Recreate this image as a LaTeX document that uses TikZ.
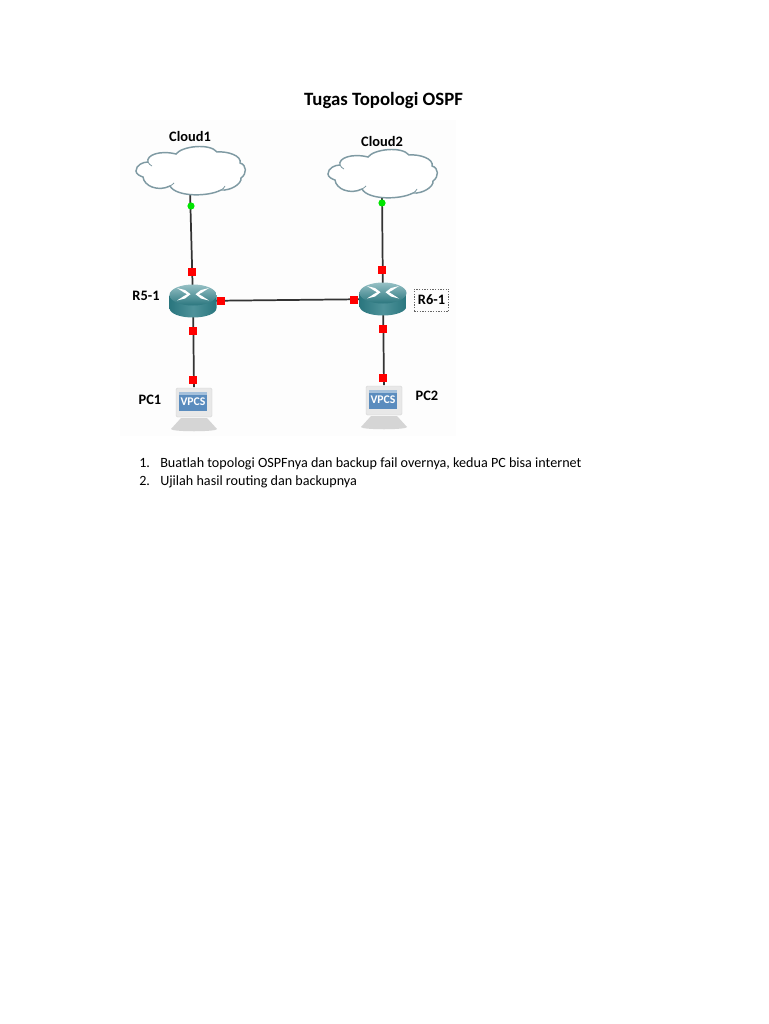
\documentclass[tikz,border=0pt]{standalone}
\usepackage{fontspec}
\setmainfont{Carlito}
\definecolor{cloudline}{HTML}{7F9AA3}
\definecolor{routertop}{HTML}{5E9FA6}
\definecolor{routerlow}{HTML}{2A767E}
\definecolor{routerdark}{HTML}{1F666E}
\definecolor{pcbody}{HTML}{E8E8E8}
\definecolor{pcedge}{HTML}{CFCFCF}
\definecolor{screenblue}{HTML}{5A8CBE}
\tikzset{
  x=0.75pt,y=-0.75pt,
  link/.style={draw=black!80,line width=1.3pt},
  port/.style={fill=red,inner sep=0pt,minimum size=5.6pt,rectangle},
  upport/.style={fill=green!90!black,inner sep=0pt,minimum size=5.4pt,circle},
  devlabel/.style={font=\bfseries\fontsize{10.8}{12}\selectfont,inner sep=0pt},
  bodytext/.style={font=\fontsize{10.6}{12}\selectfont,inner sep=0pt,anchor=base west},
  cloudpic/.pic={
    \draw[cloudline,line width=1.1pt,fill=white]
      (-54,1) .. controls (-54,-5) and (-47,-8) .. (-42,-8)
      .. controls (-44,-15) and (-30,-20) .. (-14,-16)
      .. controls (-8,-24) and (20,-27) .. (27,-18)
      .. controls (38,-19) and (52,-14) .. (50,-7)
      .. controls (57,-5) and (57,4) .. (51,8)
      .. controls (52,14) and (40,21) .. (31,20)
      .. controls (18,27) and (-14,27) .. (-20,16)
      .. controls (-32,22) and (-46,16) .. (-47,7)
      .. controls (-50,6) and (-54,4) .. (-54,1) -- cycle;
    \draw[cloudline,line width=0.6pt] (-42,-8) .. controls (-41,-6) and (-40,-5) .. (-38,-4);
    \draw[cloudline,line width=0.6pt] (-20,16) .. controls (-18,15) and (-17,14) .. (-16,13);
    \draw[cloudline,line width=0.6pt] (31,20) .. controls (33,19) and (34,18) .. (35,16);
  },
  routerpic/.pic={
    \path[left color=routerlow,right color=routerlow,middle color=routertop!70!routerlow]
      (-23.5,-6) -- (-23.5,7) .. controls (-23.5,13) and (-12,16.5) .. (0,16.5)
      .. controls (12,16.5) and (23.5,13) .. (23.5,7) -- (23.5,-6) -- cycle;
    \path[top color=routertop!65!white,bottom color=routerlow] (0,-6) ellipse [x radius=23.5,y radius=10.5];
    \foreach \sx in {-1,1}{
      \fill[white] (\sx*2.5,-6.8) -- (\sx*8,-11) -- (\sx*16,-13) -- (\sx*9,-8.5) -- (\sx*6,-6.8) -- cycle;
      \fill[white] (\sx*2.5,-6.8) -- (\sx*8,-2.5) -- (\sx*16,-0.5) -- (\sx*9,-5) -- (\sx*6,-6.8) -- cycle;
    }
  },
  pcpic/.pic={
    \fill[pcbody,draw=pcedge,line width=0.3pt,rounded corners=1pt] (-18,-18) rectangle (18,11);
    \fill[screenblue] (-15,-14) rectangle (13,5);
    \fill[screenblue!55!white] (-15,-14) rectangle (13,-11);
    \node[font=\bfseries\fontsize{8.8}{10}\selectfont,text=white,inner sep=0pt] at (-1,-4) {VPCS};
    \fill[pcbody!92!black] (-13,12) -- (13,12) -- (23,23) .. controls (23,26) and (-23,26) .. (-23,23) -- cycle;
  }
}
\begin{document}
\begin{tikzpicture}
\useasboundingbox (0,0) rectangle (768,1024);
\fill[white] (0,0) rectangle (768,1024);
\fill[black!0.7] (120,120) rectangle (456,436);

\node[font=\bfseries\fontsize{14.1}{16}\selectfont,inner sep=0pt] (title) at (383.5,100) {Tugas Topologi OSPF};

% device anchors
\node[inner sep=0pt,minimum width=80pt,minimum height=30pt] (cloud1) at (190,170) {};
\node[inner sep=0pt,minimum width=80pt,minimum height=30pt] (cloud2) at (382,173) {};
\node[inner sep=0pt,minimum width=35pt,minimum height=24pt] (r5) at (193,301) {};
\node[inner sep=0pt,minimum width=35pt,minimum height=24pt] (r6) at (383,299) {};
\node[inner sep=0pt,minimum width=26pt,minimum height=28pt] (pc1) at (194,406) {};
\node[inner sep=0pt,minimum width=26pt,minimum height=28pt] (pc2) at (384,404) {};

% connectors
\draw[link] (cloud1.south) -- (r5.center);
\draw[link] (cloud2.south) -- (r6.center);
\draw[link] (r5.center) -- (r6.center);
\draw[link] (r5.center) -- (pc1.north);
\draw[link] (r6.center) -- (pc2.north);

% devices
\pic at (cloud1) {cloudpic};
\pic at (cloud2) {cloudpic};
\pic at (r5) {routerpic};
\pic at (r6) {routerpic};
\pic at (pc1) {pcpic};
\pic at (pc2) {pcpic};

% interface markers
\node[upport] (u1) at (191,206) {};
\node[upport] (u2) at (382,203) {};
\node[port] (p1) at (192,272) {};
\node[port] (p2) at (382,270) {};
\node[port] (p3) at (221,301) {};
\node[port] (p4) at (354,300) {};
\node[port] (p5) at (193,331) {};
\node[port] (p6) at (383,329) {};
\node[port] (p7) at (193,380) {};
\node[port] (p8) at (383,378) {};

% labels
\node[devlabel] (l1) at (190,136) {Cloud1};
\node[devlabel] (l2) at (382,141) {Cloud2};
\node[devlabel] (l3) at (146,296) {R5-1};
\node[devlabel,draw=black!60,dash pattern=on 1pt off 1pt,line width=0.6pt,minimum width=26pt,minimum height=16.5pt] (l4) at (431.5,300) {R6-1};
\node[devlabel] (l5) at (150,400) {PC1};
\node[devlabel] (l6) at (427,396) {PC2};

% list
\node[bodytext] (n1) at (139,467) {1.};
\node[bodytext] (t1) at (160,467) {Buatlah topologi OSPFnya dan backup fail overnya, kedua PC bisa internet};
\node[bodytext] (n2) at (139,485) {2.};
\node[bodytext] (t2) at (160,485) {Ujilah hasil routing dan backupnya};
\end{tikzpicture}
\end{document}
